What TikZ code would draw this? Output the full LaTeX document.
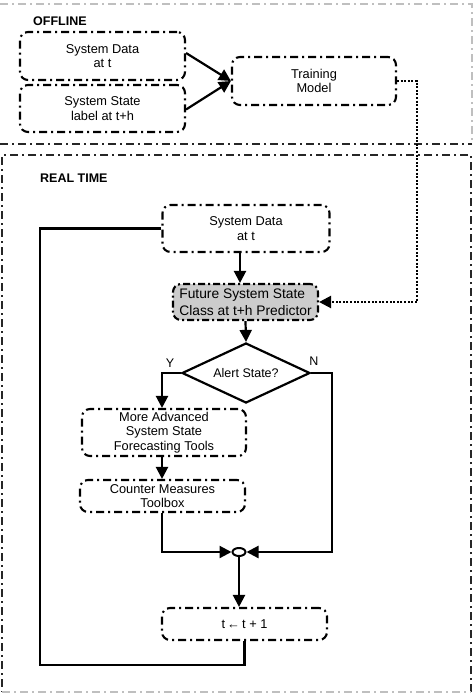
\documentclass[tikz,border=0pt]{standalone}
\usepackage{fontspec}
\setmainfont{Liberation Sans}
\usetikzlibrary{arrows.meta,shapes.geometric}
\begin{document}
\begin{tikzpicture}[x=1pt,y=-1pt,
  box/.style={draw, line width=2.1pt, rounded corners=8pt,
    dash pattern=on 8pt off 4pt on 2pt off 4pt,
    align=center, inner sep=0pt, font=\fontsize{12.8}{14.5}\selectfont},
  arr/.style={line width=2.2pt, -{Triangle[length=12pt,width=12pt]}},
  conn/.style={line width=2.2pt},
  dotarr/.style={line width=2.2pt, dash pattern=on 2pt off 1.6pt, -{Triangle[length=12pt,width=12pt]}},
  frame/.style={line width=1.5pt, dash pattern=on 8pt off 4pt on 2pt off 4pt},
  lbl/.style={font=\fontsize{12.5}{14}\selectfont\bfseries, anchor=west, inner sep=0pt},
  yn/.style={font=\fontsize{12.5}{14}\selectfont, inner sep=0pt}]
\useasboundingbox (0,0) rectangle (474,694);
% outer frames
\draw[frame, black!25] (0,4) -- (472,4) -- (472,144);
\draw[frame, black!85] (0,144) -- (472,144);
\draw[frame, black!85] (471,692) -- (471,155) -- (2,155) -- (2,692);
\draw[frame, black!25] (2,692) -- (471,692);
% section labels
\node[lbl] (offl) at (33,21) {OFFLINE};
\node[lbl] (rtl) at (40,178) {REAL TIME};
% offline nodes
\node[box, minimum width=165pt, minimum height=48pt] (offdata) at (102.5,56) {System Data\\at t};
\node[box, minimum width=165pt, minimum height=47pt] (offstate) at (102.5,108.5) {System State\\label at t+h};
\node[box, minimum width=164pt, minimum height=48pt] (train) at (314,81) {Training\\Model};
% real time nodes
\node[box, minimum width=167pt, minimum height=47pt] (rtdata) at (246,228.5) {System Data\\at t};
\node[box, fill=black!20, minimum width=145pt, minimum height=36pt, align=left,
  font=\fontsize{13.8}{16.5}\selectfont, dash pattern=on 7pt off 3pt on 2pt off 3pt] (pred) at (245.5,302) {Future System State\\Class at t+h Predictor};
\node[draw, shape=diamond, shape aspect=2.13, line width=2.2pt, minimum width=128pt, minimum height=60pt,
  inner sep=0pt, font=\fontsize{12.5}{14}\selectfont] (alert) at (246,373) {Alert State?};
\node[box, minimum width=164pt, minimum height=47pt] (more) at (164,432.5) {More Advanced\\System State\\Forecasting Tools};
\node[box, minimum width=165pt, minimum height=32pt] (counter) at (162.5,496) {Counter Measures\\Toolbox};
\node[draw, ellipse, line width=2pt, minimum width=13pt, minimum height=8pt, inner sep=0pt] (junc) at (239,552) {};
\node[box, minimum width=165pt, minimum height=32pt] (tbox) at (244.5,624) {t\,←\,t + 1};
\node[yn] (ylab) at (170,363) {Y};
\node[yn] (nlab) at (314,361) {N};
\coordinate (dotx) at (417,0);
\coordinate (nx) at (332,0);
\coordinate (loopc) at (40,665);
% connectors
\draw[arr] ([yshift=3pt]offdata.east) -- (train.west);
\draw[arr] ([yshift=-1pt]offstate.east) -- (train.west);
\draw[dotarr] (train.east) -| (dotx |- pred.east) -- (pred.east);
\draw[arr] (rtdata.south -| 240,0) -- (pred.north -| 240,0);
\draw[arr] (pred.south) -- (alert.north);
\draw[arr] (alert.west) -| (more.north -| 162,0);
\draw[arr] (more.south -| 162,0) -- (counter.north -| 162,0);
\draw[arr] (alert.east) -| (nx |- junc.east) -- (junc.east);
\draw[arr] (counter.south -| 162,0) |- (junc.west);
\draw[arr] (junc.south) -- (tbox.north -| junc.south);
\draw[conn] (tbox.south) |- (loopc) |- (rtdata.west);
\end{tikzpicture}
\end{document}
